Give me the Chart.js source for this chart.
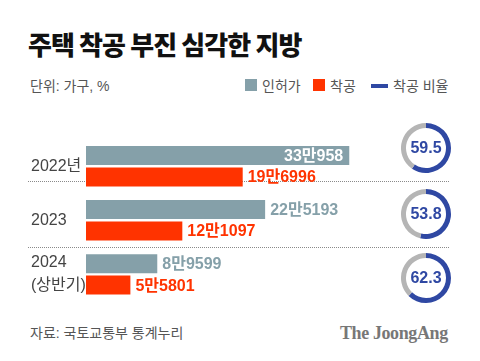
<!DOCTYPE html>
<html>
<head>
<meta charset="utf-8">
<script src="https://cdn.jsdelivr.net/npm/chart.js@4/dist/chart.umd.min.js"></script>
<style>
  body { margin: 0; width: 480px; height: 361px; background: #fff; position: relative; overflow: hidden;
         font-family: "Liberation Sans", "Noto Sans CJK KR", sans-serif; }
  .abs { position: absolute; white-space: nowrap; }
  #title { left: 28px; top: 27px; font: 900 26px/34px "Noto Sans CJK KR"; letter-spacing: -0.9px; color: #111; }
  #unit { left: 30px; top: 76px; font-size: 14px; line-height: 20px; color: #555; }
  .lg { top: 76px; font-size: 14px; line-height: 20px; color: #555; }
  .sw { top: 79px; width: 12px; height: 12px; }
  .sep { left: 28px; width: 421px; height: 1px;
         background: repeating-linear-gradient(90deg, #8a8a8a 0 1px, transparent 1px 2px); }
  #src { left: 30px; top: 323px; font-size: 14px; line-height: 20px; color: #555; }
  #logo { left: 340px; top: 321px; font: 700 18px/24px "Liberation Serif", serif; letter-spacing: -0.4px; color: #777; }
  canvas { position: absolute; }
</style>
</head>
<body>
<div id="title" class="abs">주택 착공 부진 심각한 지방</div>
<div id="unit" class="abs">단위: 가구, %</div>
<div class="abs sw" style="left:245px;background:#85a0a9"></div>
<div class="abs lg" style="left:262px">인허가</div>
<div class="abs sw" style="left:313px;background:#ff3300"></div>
<div class="abs lg" style="left:330px">착공</div>
<div class="abs" style="left:371px;top:84px;width:17px;height:4px;background:#2f48a3"></div>
<div class="abs lg" style="left:393px">착공 비율</div>

<div class="abs sep" style="top:181px"></div>
<div class="abs sep" style="top:247px"></div>

<canvas id="bars" width="370" height="197" style="left:31px;top:116px"></canvas>
<canvas id="d0" width="50" height="50" style="left:401px;top:123px"></canvas>
<canvas id="d1" width="50" height="50" style="left:401px;top:189px"></canvas>
<canvas id="d2" width="50" height="50" style="left:401px;top:253px"></canvas>

<div id="src" class="abs">자료: 국토교통부 통계누리</div>
<div id="logo" class="abs">The JoongAng</div>

<script>
const years = ['2022년', '2023', ['2024', '(상반기)']]
const permits = [330958, 225193, 89599]
const starts = [196996, 121097, 55801]
const ratios = [59.5, 53.8, 62.3]

const GRAY = '#85a0a9'
const RED = '#ff3300'
const BLUE = '#2f48a3'

const fmt = v => Math.floor(v / 10000) + '만' + (v % 10000)

const barLabels = {
  id: 'barLabels',
  afterDatasetsDraw(chart) {
    const ctx = chart.ctx
    ctx.save()
    ctx.font = 'bold 16px "Liberation Sans", "Noto Sans CJK KR"'
    ctx.textBaseline = 'middle'
    chart.data.datasets.forEach((ds, i) => {
      chart.getDatasetMeta(i).data.forEach((bar, j) => {
        const txt = fmt(ds.data[j])
        const w = ctx.measureText(txt).width
        if (bar.x + w + 6 > chart.chartArea.right) {
          ctx.fillStyle = '#fff'
          ctx.textAlign = 'right'
          ctx.fillText(txt, bar.x - 6, bar.y + 1)
        } else {
          ctx.fillStyle = ds.backgroundColor
          ctx.textAlign = 'left'
          ctx.fillText(txt, bar.x + 5, bar.y + 1)
        }
      })
    })
    ctx.restore()
  }
}

new Chart(document.getElementById('bars'), {
  type: 'bar',
  data: {
    labels: years,
    datasets: [
      { label: '인허가', data: permits, backgroundColor: GRAY },
      { label: '착공', data: starts, backgroundColor: RED },
    ],
  },
  options: {
    indexAxis: 'y',
    responsive: false,
    animation: false,
    events: [],
    categoryPercentage: 0.794,
    barPercentage: 0.885,
    layout: { padding: 0 },
    plugins: { legend: { display: false }, tooltip: { enabled: false } },
    scales: {
      x: { display: false, min: 0, max: 396000 },
      y: {
        grid: { display: false, drawTicks: false },
        border: { display: false },
        afterFit: axis => { axis.width = 55 },
        ticks: {
          crossAlign: 'far',
          color: '#444',
          padding: 0,
          font: { family: '"Liberation Sans", "Noto Sans CJK KR"', size: 16, lineHeight: 1.45 },
        },
      },
    },
  },
  plugins: [barLabels],
})

const centerText = {
  id: 'centerText',
  afterDraw(chart) {
    const ctx = chart.ctx
    const a = chart.chartArea
    ctx.save()
    ctx.font = 'bold 16px "Liberation Sans", Arial'
    ctx.fillStyle = BLUE
    ctx.textAlign = 'center'
    ctx.textBaseline = 'middle'
    ctx.fillText(chart.data.datasets[0].data[0].toFixed(1), (a.left + a.right) / 2, (a.top + a.bottom) / 2 + 1)
    ctx.restore()
  }
}

ratios.forEach((r, i) => {
  new Chart(document.getElementById('d' + i), {
    type: 'doughnut',
    data: {
      labels: ['착공 비율', ''],
      datasets: [{ data: [r, 100 - r], backgroundColor: [BLUE, '#b5b5b5'], borderWidth: 0, hoverOffset: 0 }],
    },
    options: {
      responsive: false,
      animation: false,
      events: [],
      cutout: '80%',
      plugins: { legend: { display: false }, tooltip: { enabled: false } },
    },
    plugins: [centerText],
  })
})
</script>
</body>
</html>
